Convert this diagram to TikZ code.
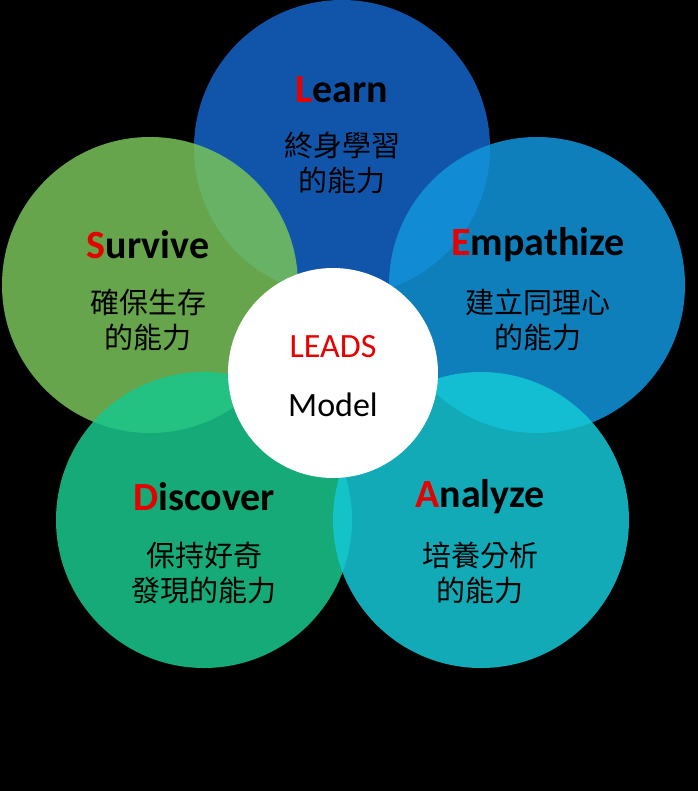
\documentclass[tikz,border=0pt]{standalone}
\usepackage{fontspec}
\setmainfont{Carlito}
\newfontfamily\cjk{Noto Sans CJK TC}
\begin{document}
\begin{tikzpicture}[x=1pt,y=-1pt,
  petal/.style={circle,minimum size=296pt,inner sep=0pt,fill opacity=0.85,text opacity=1},
  en/.style={font=\fontsize{40}{44}\selectfont\bfseries},
  zh/.style={font=\cjk\fontsize{29}{35}\selectfont,align=center}]
\fill[black] (0,0) rectangle (698,791);
\node[petal,fill={rgb,255:red,20;green,100;blue,200}] (L) at (342,148) {};
\node[petal,fill={rgb,255:red,120;green,195;blue,90}] (S) at (150,285) {};
\node[petal,fill={rgb,255:red,18;green,150;blue,220}] (E) at (537,285) {};
\node[petal,fill={rgb,255:red,25;green,200;blue,140}] (D) at (204,520) {};
\node[petal,fill={rgb,255:red,20;green,200;blue,215}] (A) at (481,520) {};
\node[circle,fill=white,minimum size=210pt,inner sep=0pt] (C) at (333,373) {};
\definecolor{rd}{RGB}{230,0,0}
\node[en] (Lt) at (342,90) {\textcolor{rd}{L}earn};
\node[zh] (Lz) at (342,163) {終身學習\\的能力};
\node[en] (St) at (148,245) {\textcolor{rd}{S}urvive};
\node[zh] (Sz) at (148,320) {確保生存\\的能力};
\node[en] (Et) at (538,245) {\textcolor{rd}{E}mpathize};
\node[zh] (Ez) at (538,320) {建立同理心\\的能力};
\node[en] (Dt) at (204,497) {\textcolor{rd}{D}iscover};
\node[zh] (Dz) at (204,573) {保持好奇\\發現的能力};
\node[en] (At) at (480,497) {\textcolor{rd}{A}nalyze};
\node[zh] (Az) at (480,573) {培養分析\\的能力};
\node[font=\fontsize{34}{38}\selectfont,text=rd] (Ct) at (333,347) {LEADS};
\node[font=\fontsize{34}{38}\selectfont] (Cm) at (333,405) {Model};
\end{tikzpicture}
\end{document}
